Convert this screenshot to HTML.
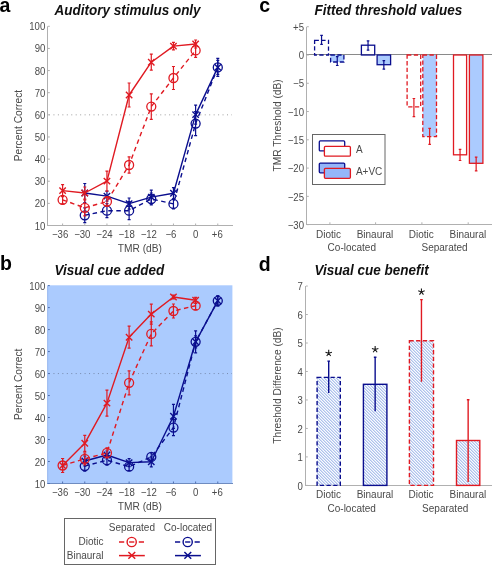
<!DOCTYPE html>
<html><head><meta charset="utf-8"><style>
html,body{margin:0;padding:0;background:#fff;}
svg{display:block;font-family:"Liberation Sans", sans-serif;will-change:transform;}
</style></head><body>
<svg width="492" height="565" viewBox="0 0 492 565">
<defs>
<pattern id="hatch" patternUnits="userSpaceOnUse" x="0" y="0" width="3" height="3">
<rect width="3" height="3" fill="#f9fbff"/>
<rect x="0" y="0" width="1" height="1" fill="#aec2ec"/><rect x="1" y="1" width="1" height="1" fill="#aec2ec"/><rect x="2" y="2" width="1" height="1" fill="#aec2ec"/>
<rect x="1" y="0" width="1" height="1" fill="#d4dff5"/><rect x="2" y="1" width="1" height="1" fill="#d4dff5"/><rect x="0" y="2" width="1" height="1" fill="#d4dff5"/>
</pattern>
</defs>
<rect width="492" height="565" fill="#fff"/>
<text x="-0.60" y="12.30" font-size="19.5" text-anchor="start" fill="#000" font-weight="bold" font-style="normal">a</text>
<text x="259.30" y="12.30" font-size="19.5" text-anchor="start" fill="#000" font-weight="bold" font-style="normal">c</text>
<text x="0.00" y="270.40" font-size="19.5" text-anchor="start" fill="#000" font-weight="bold" font-style="normal">b</text>
<text x="258.80" y="270.80" font-size="19.5" text-anchor="start" fill="#000" font-weight="bold" font-style="normal">d</text>
<text transform="translate(54.50,14.90) scale(1,1.05)" font-size="13.5" text-anchor="start" fill="#111" font-weight="bold" font-style="italic">Auditory stimulus only</text>
<text transform="translate(314.60,14.90) scale(1,1.05)" font-size="13.5" text-anchor="start" fill="#111" font-weight="bold" font-style="italic">Fitted threshold values</text>
<text transform="translate(54.50,274.80) scale(1,1.05)" font-size="13.5" text-anchor="start" fill="#111" font-weight="bold" font-style="italic">Visual cue added</text>
<text transform="translate(314.60,274.80) scale(1,1.05)" font-size="13.5" text-anchor="start" fill="#111" font-weight="bold" font-style="italic">Visual cue benefit</text>
<line x1="49.00" y1="114.83" x2="232.00" y2="114.83" stroke="#8a8a8a" stroke-width="1" stroke-dasharray="1 3.45" stroke-opacity="0.8"/>
<line x1="47.50" y1="26.30" x2="47.50" y2="225.50" stroke="#b0b0b0" stroke-width="1" />
<line x1="47.00" y1="225.50" x2="233.00" y2="225.50" stroke="#b0b0b0" stroke-width="1" />
<line x1="48.00" y1="225.50" x2="49.80" y2="225.50" stroke="#b0b0b0" stroke-width="1" />
<text transform="translate(45.30,229.50) scale(1,1.08)" font-size="9.6" text-anchor="end" fill="#4a4a4a" font-weight="normal" font-style="normal">10</text>
<line x1="48.00" y1="203.37" x2="49.80" y2="203.37" stroke="#b0b0b0" stroke-width="1" />
<text transform="translate(45.30,207.37) scale(1,1.08)" font-size="9.6" text-anchor="end" fill="#4a4a4a" font-weight="normal" font-style="normal">20</text>
<line x1="48.00" y1="181.23" x2="49.80" y2="181.23" stroke="#b0b0b0" stroke-width="1" />
<text transform="translate(45.30,185.23) scale(1,1.08)" font-size="9.6" text-anchor="end" fill="#4a4a4a" font-weight="normal" font-style="normal">30</text>
<line x1="48.00" y1="159.10" x2="49.80" y2="159.10" stroke="#b0b0b0" stroke-width="1" />
<text transform="translate(45.30,163.10) scale(1,1.08)" font-size="9.6" text-anchor="end" fill="#4a4a4a" font-weight="normal" font-style="normal">40</text>
<line x1="48.00" y1="136.97" x2="49.80" y2="136.97" stroke="#b0b0b0" stroke-width="1" />
<text transform="translate(45.30,140.97) scale(1,1.08)" font-size="9.6" text-anchor="end" fill="#4a4a4a" font-weight="normal" font-style="normal">50</text>
<line x1="48.00" y1="114.83" x2="49.80" y2="114.83" stroke="#b0b0b0" stroke-width="1" />
<text transform="translate(45.30,118.83) scale(1,1.08)" font-size="9.6" text-anchor="end" fill="#4a4a4a" font-weight="normal" font-style="normal">60</text>
<line x1="48.00" y1="92.70" x2="49.80" y2="92.70" stroke="#b0b0b0" stroke-width="1" />
<text transform="translate(45.30,96.70) scale(1,1.08)" font-size="9.6" text-anchor="end" fill="#4a4a4a" font-weight="normal" font-style="normal">70</text>
<line x1="48.00" y1="70.57" x2="49.80" y2="70.57" stroke="#b0b0b0" stroke-width="1" />
<text transform="translate(45.30,74.57) scale(1,1.08)" font-size="9.6" text-anchor="end" fill="#4a4a4a" font-weight="normal" font-style="normal">80</text>
<line x1="48.00" y1="48.43" x2="49.80" y2="48.43" stroke="#b0b0b0" stroke-width="1" />
<text transform="translate(45.30,52.43) scale(1,1.08)" font-size="9.6" text-anchor="end" fill="#4a4a4a" font-weight="normal" font-style="normal">90</text>
<line x1="48.00" y1="26.30" x2="49.80" y2="26.30" stroke="#b0b0b0" stroke-width="1" />
<text transform="translate(45.30,30.30) scale(1,1.08)" font-size="9.6" text-anchor="end" fill="#4a4a4a" font-weight="normal" font-style="normal">100</text>
<line x1="62.60" y1="225.50" x2="62.60" y2="223.50" stroke="#b0b0b0" stroke-width="1" />
<text transform="translate(60.10,238.20) scale(1,1.08)" font-size="9.6" text-anchor="middle" fill="#4a4a4a" font-weight="normal" font-style="normal">−36</text>
<line x1="84.77" y1="225.50" x2="84.77" y2="223.50" stroke="#b0b0b0" stroke-width="1" />
<text transform="translate(82.27,238.20) scale(1,1.08)" font-size="9.6" text-anchor="middle" fill="#4a4a4a" font-weight="normal" font-style="normal">−30</text>
<line x1="106.94" y1="225.50" x2="106.94" y2="223.50" stroke="#b0b0b0" stroke-width="1" />
<text transform="translate(104.44,238.20) scale(1,1.08)" font-size="9.6" text-anchor="middle" fill="#4a4a4a" font-weight="normal" font-style="normal">−24</text>
<line x1="129.11" y1="225.50" x2="129.11" y2="223.50" stroke="#b0b0b0" stroke-width="1" />
<text transform="translate(126.61,238.20) scale(1,1.08)" font-size="9.6" text-anchor="middle" fill="#4a4a4a" font-weight="normal" font-style="normal">−18</text>
<line x1="151.28" y1="225.50" x2="151.28" y2="223.50" stroke="#b0b0b0" stroke-width="1" />
<text transform="translate(148.78,238.20) scale(1,1.08)" font-size="9.6" text-anchor="middle" fill="#4a4a4a" font-weight="normal" font-style="normal">−12</text>
<line x1="173.45" y1="225.50" x2="173.45" y2="223.50" stroke="#b0b0b0" stroke-width="1" />
<text transform="translate(170.95,238.20) scale(1,1.08)" font-size="9.6" text-anchor="middle" fill="#4a4a4a" font-weight="normal" font-style="normal">−6</text>
<line x1="195.62" y1="225.50" x2="195.62" y2="223.50" stroke="#b0b0b0" stroke-width="1" />
<text transform="translate(195.62,238.20) scale(1,1.08)" font-size="9.6" text-anchor="middle" fill="#4a4a4a" font-weight="normal" font-style="normal">0</text>
<line x1="217.79" y1="225.50" x2="217.79" y2="223.50" stroke="#b0b0b0" stroke-width="1" />
<text transform="translate(217.29,238.20) scale(1,1.08)" font-size="9.6" text-anchor="middle" fill="#4a4a4a" font-weight="normal" font-style="normal">+6</text>
<text x="139.90" y="251.70" font-size="10.2" text-anchor="middle" fill="#4a4a4a" font-weight="normal" font-style="normal">TMR (dB)</text>
<text transform="translate(22.3,125.60) rotate(-90)" font-size="10.2" text-anchor="middle" fill="#4a4a4a">Percent Correct</text>
<polyline points="84.77,215.30 106.94,210.70 129.11,210.70 151.28,199.00 173.45,203.90 195.62,123.60 217.79,67.40" fill="none" stroke="#0a0e8e" stroke-width="1.4" stroke-dasharray="4.5 3.5" stroke-linejoin="round"/>
<path d="M84.77,207.90V222.70M83.27,207.90H86.27M83.27,222.70H86.27" stroke="#0a0e8e" stroke-width="1.2" fill="none"/>
<circle cx="84.77" cy="215.30" r="4.5" fill="none" stroke="#0a0e8e" stroke-width="1.3"/>
<path d="M106.94,203.70V217.70M105.44,203.70H108.44M105.44,217.70H108.44" stroke="#0a0e8e" stroke-width="1.2" fill="none"/>
<circle cx="106.94" cy="210.70" r="4.5" fill="none" stroke="#0a0e8e" stroke-width="1.3"/>
<path d="M129.11,201.70V219.70M127.61,201.70H130.61M127.61,219.70H130.61" stroke="#0a0e8e" stroke-width="1.2" fill="none"/>
<circle cx="129.11" cy="210.70" r="4.5" fill="none" stroke="#0a0e8e" stroke-width="1.3"/>
<path d="M151.28,193.00V205.00M149.78,193.00H152.78M149.78,205.00H152.78" stroke="#0a0e8e" stroke-width="1.2" fill="none"/>
<circle cx="151.28" cy="199.00" r="4.5" fill="none" stroke="#0a0e8e" stroke-width="1.3"/>
<path d="M173.45,198.90V208.90M171.95,198.90H174.95M171.95,208.90H174.95" stroke="#0a0e8e" stroke-width="1.2" fill="none"/>
<circle cx="173.45" cy="203.90" r="4.5" fill="none" stroke="#0a0e8e" stroke-width="1.3"/>
<path d="M195.62,111.60V135.60M194.12,111.60H197.12M194.12,135.60H197.12" stroke="#0a0e8e" stroke-width="1.2" fill="none"/>
<circle cx="195.62" cy="123.60" r="4.5" fill="none" stroke="#0a0e8e" stroke-width="1.3"/>
<path d="M217.79,58.40V76.40M216.29,58.40H219.29M216.29,76.40H219.29" stroke="#0a0e8e" stroke-width="1.2" fill="none"/>
<circle cx="217.79" cy="67.40" r="4.5" fill="none" stroke="#0a0e8e" stroke-width="1.3"/>
<polyline points="84.77,193.00 106.94,196.10 129.11,203.60 151.28,197.10 173.45,193.30 195.62,114.60 217.79,67.40" fill="none" stroke="#0a0e8e" stroke-width="1.4" stroke-linejoin="round"/>
<path d="M84.77,183.50V202.50M83.27,183.50H86.27M83.27,202.50H86.27" stroke="#0a0e8e" stroke-width="1.2" fill="none"/>
<path d="M81.57,189.80L87.97,196.20M81.57,196.20L87.97,189.80" stroke="#0a0e8e" stroke-width="1.4" fill="none"/>
<path d="M106.94,191.10V201.10M105.44,191.10H108.44M105.44,201.10H108.44" stroke="#0a0e8e" stroke-width="1.2" fill="none"/>
<path d="M103.74,192.90L110.14,199.30M103.74,199.30L110.14,192.90" stroke="#0a0e8e" stroke-width="1.4" fill="none"/>
<path d="M129.11,198.00V209.20M127.61,198.00H130.61M127.61,209.20H130.61" stroke="#0a0e8e" stroke-width="1.2" fill="none"/>
<path d="M125.91,200.40L132.31,206.80M125.91,206.80L132.31,200.40" stroke="#0a0e8e" stroke-width="1.4" fill="none"/>
<path d="M151.28,190.10V204.10M149.78,190.10H152.78M149.78,204.10H152.78" stroke="#0a0e8e" stroke-width="1.2" fill="none"/>
<path d="M148.08,193.90L154.48,200.30M148.08,200.30L154.48,193.90" stroke="#0a0e8e" stroke-width="1.4" fill="none"/>
<path d="M173.45,187.60V199.00M171.95,187.60H174.95M171.95,199.00H174.95" stroke="#0a0e8e" stroke-width="1.2" fill="none"/>
<path d="M170.25,190.10L176.65,196.50M170.25,196.50L176.65,190.10" stroke="#0a0e8e" stroke-width="1.4" fill="none"/>
<path d="M195.62,105.10V124.10M194.12,105.10H197.12M194.12,124.10H197.12" stroke="#0a0e8e" stroke-width="1.2" fill="none"/>
<path d="M192.42,111.40L198.82,117.80M192.42,117.80L198.82,111.40" stroke="#0a0e8e" stroke-width="1.4" fill="none"/>
<path d="M217.79,60.40V74.40M216.29,60.40H219.29M216.29,74.40H219.29" stroke="#0a0e8e" stroke-width="1.2" fill="none"/>
<path d="M214.59,64.20L220.99,70.60M214.59,70.60L220.99,64.20" stroke="#0a0e8e" stroke-width="1.4" fill="none"/>
<polyline points="62.60,199.80 84.77,207.80 106.94,201.50 129.11,165.00 151.28,106.60 173.45,78.00 195.62,50.40" fill="none" stroke="#e01a22" stroke-width="1.4" stroke-dasharray="4.5 3.5" stroke-linejoin="round"/>
<path d="M62.60,195.80V203.80M61.10,195.80H64.10M61.10,203.80H64.10" stroke="#e01a22" stroke-width="1.2" fill="none"/>
<circle cx="62.60" cy="199.80" r="4.5" fill="none" stroke="#e01a22" stroke-width="1.3"/>
<path d="M84.77,199.80V215.80M83.27,199.80H86.27M83.27,215.80H86.27" stroke="#e01a22" stroke-width="1.2" fill="none"/>
<circle cx="84.77" cy="207.80" r="4.5" fill="none" stroke="#e01a22" stroke-width="1.3"/>
<path d="M106.94,196.50V206.50M105.44,196.50H108.44M105.44,206.50H108.44" stroke="#e01a22" stroke-width="1.2" fill="none"/>
<circle cx="106.94" cy="201.50" r="4.5" fill="none" stroke="#e01a22" stroke-width="1.3"/>
<path d="M129.11,156.80V173.20M127.61,156.80H130.61M127.61,173.20H130.61" stroke="#e01a22" stroke-width="1.2" fill="none"/>
<circle cx="129.11" cy="165.00" r="4.5" fill="none" stroke="#e01a22" stroke-width="1.3"/>
<path d="M151.28,93.90V119.30M149.78,93.90H152.78M149.78,119.30H152.78" stroke="#e01a22" stroke-width="1.2" fill="none"/>
<circle cx="151.28" cy="106.60" r="4.5" fill="none" stroke="#e01a22" stroke-width="1.3"/>
<path d="M173.45,66.50V89.50M171.95,66.50H174.95M171.95,89.50H174.95" stroke="#e01a22" stroke-width="1.2" fill="none"/>
<circle cx="173.45" cy="78.00" r="4.5" fill="none" stroke="#e01a22" stroke-width="1.3"/>
<path d="M195.62,43.40V57.40M194.12,43.40H197.12M194.12,57.40H197.12" stroke="#e01a22" stroke-width="1.2" fill="none"/>
<circle cx="195.62" cy="50.40" r="4.5" fill="none" stroke="#e01a22" stroke-width="1.3"/>
<polyline points="62.60,190.60 84.77,193.00 106.94,181.10 129.11,95.00 151.28,62.20 173.45,46.10 195.62,44.00" fill="none" stroke="#e01a22" stroke-width="1.4" stroke-linejoin="round"/>
<path d="M62.60,184.60V196.60M61.10,184.60H64.10M61.10,196.60H64.10" stroke="#e01a22" stroke-width="1.2" fill="none"/>
<path d="M59.40,187.40L65.80,193.80M59.40,193.80L65.80,187.40" stroke="#e01a22" stroke-width="1.4" fill="none"/>
<path d="M84.77,187.00V199.00M83.27,187.00H86.27M83.27,199.00H86.27" stroke="#e01a22" stroke-width="1.2" fill="none"/>
<path d="M81.57,189.80L87.97,196.20M81.57,196.20L87.97,189.80" stroke="#e01a22" stroke-width="1.4" fill="none"/>
<path d="M106.94,171.10V191.10M105.44,171.10H108.44M105.44,191.10H108.44" stroke="#e01a22" stroke-width="1.2" fill="none"/>
<path d="M103.74,177.90L110.14,184.30M103.74,184.30L110.14,177.90" stroke="#e01a22" stroke-width="1.4" fill="none"/>
<path d="M129.11,83.00V107.00M127.61,83.00H130.61M127.61,107.00H130.61" stroke="#e01a22" stroke-width="1.2" fill="none"/>
<path d="M125.91,91.80L132.31,98.20M125.91,98.20L132.31,91.80" stroke="#e01a22" stroke-width="1.4" fill="none"/>
<path d="M151.28,54.20V70.20M149.78,54.20H152.78M149.78,70.20H152.78" stroke="#e01a22" stroke-width="1.2" fill="none"/>
<path d="M148.08,59.00L154.48,65.40M148.08,65.40L154.48,59.00" stroke="#e01a22" stroke-width="1.4" fill="none"/>
<path d="M173.45,42.40V49.80M171.95,42.40H174.95M171.95,49.80H174.95" stroke="#e01a22" stroke-width="1.2" fill="none"/>
<path d="M170.25,42.90L176.65,49.30M170.25,49.30L176.65,42.90" stroke="#e01a22" stroke-width="1.4" fill="none"/>
<path d="M195.62,40.00V48.00M194.12,40.00H197.12M194.12,48.00H197.12" stroke="#e01a22" stroke-width="1.2" fill="none"/>
<path d="M192.42,40.80L198.82,47.20M192.42,47.20L198.82,40.80" stroke="#e01a22" stroke-width="1.4" fill="none"/>
<rect x="47.2" y="285.30" width="185.20" height="198.20" fill="#abcbfe"/>
<line x1="47.70" y1="285.60" x2="47.70" y2="483.50" stroke="#94b2e8" stroke-width="0.8" />
<line x1="49.00" y1="373.56" x2="232.00" y2="373.56" stroke="#6a7a9a" stroke-width="1" stroke-dasharray="1 3.45" stroke-opacity="0.8"/>
<line x1="47.00" y1="483.50" x2="233.00" y2="483.50" stroke="#6f8cc0" stroke-width="1" />
<line x1="48.00" y1="483.50" x2="49.80" y2="483.50" stroke="#4f6fb0" stroke-width="1" />
<text transform="translate(45.30,487.50) scale(1,1.08)" font-size="9.6" text-anchor="end" fill="#4a4a4a" font-weight="normal" font-style="normal">10</text>
<line x1="48.00" y1="461.51" x2="49.80" y2="461.51" stroke="#4f6fb0" stroke-width="1" />
<text transform="translate(45.30,465.51) scale(1,1.08)" font-size="9.6" text-anchor="end" fill="#4a4a4a" font-weight="normal" font-style="normal">20</text>
<line x1="48.00" y1="439.52" x2="49.80" y2="439.52" stroke="#4f6fb0" stroke-width="1" />
<text transform="translate(45.30,443.52) scale(1,1.08)" font-size="9.6" text-anchor="end" fill="#4a4a4a" font-weight="normal" font-style="normal">30</text>
<line x1="48.00" y1="417.53" x2="49.80" y2="417.53" stroke="#4f6fb0" stroke-width="1" />
<text transform="translate(45.30,421.53) scale(1,1.08)" font-size="9.6" text-anchor="end" fill="#4a4a4a" font-weight="normal" font-style="normal">40</text>
<line x1="48.00" y1="395.54" x2="49.80" y2="395.54" stroke="#4f6fb0" stroke-width="1" />
<text transform="translate(45.30,399.54) scale(1,1.08)" font-size="9.6" text-anchor="end" fill="#4a4a4a" font-weight="normal" font-style="normal">50</text>
<line x1="48.00" y1="373.56" x2="49.80" y2="373.56" stroke="#4f6fb0" stroke-width="1" />
<text transform="translate(45.30,377.56) scale(1,1.08)" font-size="9.6" text-anchor="end" fill="#4a4a4a" font-weight="normal" font-style="normal">60</text>
<line x1="48.00" y1="351.57" x2="49.80" y2="351.57" stroke="#4f6fb0" stroke-width="1" />
<text transform="translate(45.30,355.57) scale(1,1.08)" font-size="9.6" text-anchor="end" fill="#4a4a4a" font-weight="normal" font-style="normal">70</text>
<line x1="48.00" y1="329.58" x2="49.80" y2="329.58" stroke="#4f6fb0" stroke-width="1" />
<text transform="translate(45.30,333.58) scale(1,1.08)" font-size="9.6" text-anchor="end" fill="#4a4a4a" font-weight="normal" font-style="normal">80</text>
<line x1="48.00" y1="307.59" x2="49.80" y2="307.59" stroke="#4f6fb0" stroke-width="1" />
<text transform="translate(45.30,311.59) scale(1,1.08)" font-size="9.6" text-anchor="end" fill="#4a4a4a" font-weight="normal" font-style="normal">90</text>
<line x1="48.00" y1="285.60" x2="49.80" y2="285.60" stroke="#4f6fb0" stroke-width="1" />
<text transform="translate(45.30,289.60) scale(1,1.08)" font-size="9.6" text-anchor="end" fill="#4a4a4a" font-weight="normal" font-style="normal">100</text>
<line x1="62.60" y1="483.50" x2="62.60" y2="481.50" stroke="#4f6fb0" stroke-width="1" />
<text transform="translate(60.10,496.20) scale(1,1.08)" font-size="9.6" text-anchor="middle" fill="#4a4a4a" font-weight="normal" font-style="normal">−36</text>
<line x1="84.77" y1="483.50" x2="84.77" y2="481.50" stroke="#4f6fb0" stroke-width="1" />
<text transform="translate(82.27,496.20) scale(1,1.08)" font-size="9.6" text-anchor="middle" fill="#4a4a4a" font-weight="normal" font-style="normal">−30</text>
<line x1="106.94" y1="483.50" x2="106.94" y2="481.50" stroke="#4f6fb0" stroke-width="1" />
<text transform="translate(104.44,496.20) scale(1,1.08)" font-size="9.6" text-anchor="middle" fill="#4a4a4a" font-weight="normal" font-style="normal">−24</text>
<line x1="129.11" y1="483.50" x2="129.11" y2="481.50" stroke="#4f6fb0" stroke-width="1" />
<text transform="translate(126.61,496.20) scale(1,1.08)" font-size="9.6" text-anchor="middle" fill="#4a4a4a" font-weight="normal" font-style="normal">−18</text>
<line x1="151.28" y1="483.50" x2="151.28" y2="481.50" stroke="#4f6fb0" stroke-width="1" />
<text transform="translate(148.78,496.20) scale(1,1.08)" font-size="9.6" text-anchor="middle" fill="#4a4a4a" font-weight="normal" font-style="normal">−12</text>
<line x1="173.45" y1="483.50" x2="173.45" y2="481.50" stroke="#4f6fb0" stroke-width="1" />
<text transform="translate(170.95,496.20) scale(1,1.08)" font-size="9.6" text-anchor="middle" fill="#4a4a4a" font-weight="normal" font-style="normal">−6</text>
<line x1="195.62" y1="483.50" x2="195.62" y2="481.50" stroke="#4f6fb0" stroke-width="1" />
<text transform="translate(195.62,496.20) scale(1,1.08)" font-size="9.6" text-anchor="middle" fill="#4a4a4a" font-weight="normal" font-style="normal">0</text>
<line x1="217.79" y1="483.50" x2="217.79" y2="481.50" stroke="#4f6fb0" stroke-width="1" />
<text transform="translate(217.29,496.20) scale(1,1.08)" font-size="9.6" text-anchor="middle" fill="#4a4a4a" font-weight="normal" font-style="normal">+6</text>
<text x="139.90" y="509.70" font-size="10.2" text-anchor="middle" fill="#4a4a4a" font-weight="normal" font-style="normal">TMR (dB)</text>
<text transform="translate(22.3,384.25) rotate(-90)" font-size="10.2" text-anchor="middle" fill="#4a4a4a">Percent Correct</text>
<polyline points="84.77,466.10 106.94,460.20 129.11,466.70 151.28,456.90 173.45,427.60 195.62,341.80 217.79,300.80" fill="none" stroke="#0a0e8e" stroke-width="1.4" stroke-dasharray="4.5 3.5" stroke-linejoin="round"/>
<path d="M84.77,461.10V471.10M83.27,461.10H86.27M83.27,471.10H86.27" stroke="#0a0e8e" stroke-width="1.2" fill="none"/>
<circle cx="84.77" cy="466.10" r="4.5" fill="none" stroke="#0a0e8e" stroke-width="1.3"/>
<path d="M106.94,455.20V465.20M105.44,455.20H108.44M105.44,465.20H108.44" stroke="#0a0e8e" stroke-width="1.2" fill="none"/>
<circle cx="106.94" cy="460.20" r="4.5" fill="none" stroke="#0a0e8e" stroke-width="1.3"/>
<path d="M129.11,462.70V470.70M127.61,462.70H130.61M127.61,470.70H130.61" stroke="#0a0e8e" stroke-width="1.2" fill="none"/>
<circle cx="129.11" cy="466.70" r="4.5" fill="none" stroke="#0a0e8e" stroke-width="1.3"/>
<path d="M151.28,452.90V460.90M149.78,452.90H152.78M149.78,460.90H152.78" stroke="#0a0e8e" stroke-width="1.2" fill="none"/>
<circle cx="151.28" cy="456.90" r="4.5" fill="none" stroke="#0a0e8e" stroke-width="1.3"/>
<path d="M173.45,419.60V435.60M171.95,419.60H174.95M171.95,435.60H174.95" stroke="#0a0e8e" stroke-width="1.2" fill="none"/>
<circle cx="173.45" cy="427.60" r="4.5" fill="none" stroke="#0a0e8e" stroke-width="1.3"/>
<path d="M195.62,335.80V347.80M194.12,335.80H197.12M194.12,347.80H197.12" stroke="#0a0e8e" stroke-width="1.2" fill="none"/>
<circle cx="195.62" cy="341.80" r="4.5" fill="none" stroke="#0a0e8e" stroke-width="1.3"/>
<path d="M217.79,295.80V305.80M216.29,295.80H219.29M216.29,305.80H219.29" stroke="#0a0e8e" stroke-width="1.2" fill="none"/>
<circle cx="217.79" cy="300.80" r="4.5" fill="none" stroke="#0a0e8e" stroke-width="1.3"/>
<polyline points="84.77,461.00 106.94,455.00 129.11,462.60 151.28,461.80 173.45,416.30 195.62,341.80 217.79,300.80" fill="none" stroke="#0a0e8e" stroke-width="1.4" stroke-linejoin="round"/>
<path d="M84.77,456.00V466.00M83.27,456.00H86.27M83.27,466.00H86.27" stroke="#0a0e8e" stroke-width="1.2" fill="none"/>
<path d="M81.57,457.80L87.97,464.20M81.57,464.20L87.97,457.80" stroke="#0a0e8e" stroke-width="1.4" fill="none"/>
<path d="M106.94,451.00V459.00M105.44,451.00H108.44M105.44,459.00H108.44" stroke="#0a0e8e" stroke-width="1.2" fill="none"/>
<path d="M103.74,451.80L110.14,458.20M103.74,458.20L110.14,451.80" stroke="#0a0e8e" stroke-width="1.4" fill="none"/>
<path d="M129.11,458.60V466.60M127.61,458.60H130.61M127.61,466.60H130.61" stroke="#0a0e8e" stroke-width="1.2" fill="none"/>
<path d="M125.91,459.40L132.31,465.80M125.91,465.80L132.31,459.40" stroke="#0a0e8e" stroke-width="1.4" fill="none"/>
<path d="M151.28,456.80V466.80M149.78,456.80H152.78M149.78,466.80H152.78" stroke="#0a0e8e" stroke-width="1.2" fill="none"/>
<path d="M148.08,458.60L154.48,465.00M148.08,465.00L154.48,458.60" stroke="#0a0e8e" stroke-width="1.4" fill="none"/>
<path d="M173.45,404.30V428.30M171.95,404.30H174.95M171.95,428.30H174.95" stroke="#0a0e8e" stroke-width="1.2" fill="none"/>
<path d="M170.25,413.10L176.65,419.50M170.25,419.50L176.65,413.10" stroke="#0a0e8e" stroke-width="1.4" fill="none"/>
<path d="M195.62,330.80V352.80M194.12,330.80H197.12M194.12,352.80H197.12" stroke="#0a0e8e" stroke-width="1.2" fill="none"/>
<path d="M192.42,338.60L198.82,345.00M192.42,345.00L198.82,338.60" stroke="#0a0e8e" stroke-width="1.4" fill="none"/>
<path d="M217.79,295.80V305.80M216.29,295.80H219.29M216.29,305.80H219.29" stroke="#0a0e8e" stroke-width="1.2" fill="none"/>
<path d="M214.59,297.60L220.99,304.00M214.59,304.00L220.99,297.60" stroke="#0a0e8e" stroke-width="1.4" fill="none"/>
<polyline points="62.60,465.50 84.77,458.80 106.94,452.90 129.11,382.80 151.28,333.90 173.45,311.00 195.62,305.70" fill="none" stroke="#e01a22" stroke-width="1.4" stroke-dasharray="4.5 3.5" stroke-linejoin="round"/>
<path d="M62.60,458.50V472.50M61.10,458.50H64.10M61.10,472.50H64.10" stroke="#e01a22" stroke-width="1.2" fill="none"/>
<circle cx="62.60" cy="465.50" r="4.5" fill="none" stroke="#e01a22" stroke-width="1.3"/>
<path d="M84.77,452.80V464.80M83.27,452.80H86.27M83.27,464.80H86.27" stroke="#e01a22" stroke-width="1.2" fill="none"/>
<circle cx="84.77" cy="458.80" r="4.5" fill="none" stroke="#e01a22" stroke-width="1.3"/>
<path d="M106.94,447.90V457.90M105.44,447.90H108.44M105.44,457.90H108.44" stroke="#e01a22" stroke-width="1.2" fill="none"/>
<circle cx="106.94" cy="452.90" r="4.5" fill="none" stroke="#e01a22" stroke-width="1.3"/>
<path d="M129.11,370.80V394.80M127.61,370.80H130.61M127.61,394.80H130.61" stroke="#e01a22" stroke-width="1.2" fill="none"/>
<circle cx="129.11" cy="382.80" r="4.5" fill="none" stroke="#e01a22" stroke-width="1.3"/>
<path d="M151.28,321.90V345.90M149.78,321.90H152.78M149.78,345.90H152.78" stroke="#e01a22" stroke-width="1.2" fill="none"/>
<circle cx="151.28" cy="333.90" r="4.5" fill="none" stroke="#e01a22" stroke-width="1.3"/>
<path d="M173.45,304.00V318.00M171.95,304.00H174.95M171.95,318.00H174.95" stroke="#e01a22" stroke-width="1.2" fill="none"/>
<circle cx="173.45" cy="311.00" r="4.5" fill="none" stroke="#e01a22" stroke-width="1.3"/>
<path d="M195.62,301.70V309.70M194.12,301.70H197.12M194.12,309.70H197.12" stroke="#e01a22" stroke-width="1.2" fill="none"/>
<circle cx="195.62" cy="305.70" r="4.5" fill="none" stroke="#e01a22" stroke-width="1.3"/>
<polyline points="62.60,465.50 84.77,443.30 106.94,403.10 129.11,337.20 151.28,314.10 173.45,297.00 195.62,300.30" fill="none" stroke="#e01a22" stroke-width="1.4" stroke-linejoin="round"/>
<path d="M62.60,458.50V472.50M61.10,458.50H64.10M61.10,472.50H64.10" stroke="#e01a22" stroke-width="1.2" fill="none"/>
<path d="M59.40,462.30L65.80,468.70M59.40,468.70L65.80,462.30" stroke="#e01a22" stroke-width="1.4" fill="none"/>
<path d="M84.77,435.30V451.30M83.27,435.30H86.27M83.27,451.30H86.27" stroke="#e01a22" stroke-width="1.2" fill="none"/>
<path d="M81.57,440.10L87.97,446.50M81.57,446.50L87.97,440.10" stroke="#e01a22" stroke-width="1.4" fill="none"/>
<path d="M106.94,390.10V416.10M105.44,390.10H108.44M105.44,416.10H108.44" stroke="#e01a22" stroke-width="1.2" fill="none"/>
<path d="M103.74,399.90L110.14,406.30M103.74,406.30L110.14,399.90" stroke="#e01a22" stroke-width="1.4" fill="none"/>
<path d="M129.11,326.20V348.20M127.61,326.20H130.61M127.61,348.20H130.61" stroke="#e01a22" stroke-width="1.2" fill="none"/>
<path d="M125.91,334.00L132.31,340.40M125.91,340.40L132.31,334.00" stroke="#e01a22" stroke-width="1.4" fill="none"/>
<path d="M151.28,304.10V324.10M149.78,304.10H152.78M149.78,324.10H152.78" stroke="#e01a22" stroke-width="1.2" fill="none"/>
<path d="M148.08,310.90L154.48,317.30M148.08,317.30L154.48,310.90" stroke="#e01a22" stroke-width="1.4" fill="none"/>
<path d="M173.45,295.00V299.00M171.95,295.00H174.95M171.95,299.00H174.95" stroke="#e01a22" stroke-width="1.2" fill="none"/>
<path d="M170.25,293.80L176.65,300.20M170.25,300.20L176.65,293.80" stroke="#e01a22" stroke-width="1.4" fill="none"/>
<path d="M195.62,297.30V303.30M194.12,297.30H197.12M194.12,303.30H197.12" stroke="#e01a22" stroke-width="1.2" fill="none"/>
<path d="M192.42,297.10L198.82,303.50M192.42,303.50L198.82,297.10" stroke="#e01a22" stroke-width="1.4" fill="none"/>
<rect x="64.5" y="518.5" width="151" height="46" fill="#fff" stroke="#666" stroke-width="1"/>
<text x="131.90" y="531.30" font-size="10" text-anchor="middle" fill="#4a4a4a" font-weight="normal" font-style="normal">Separated</text>
<text x="188.00" y="531.30" font-size="10" text-anchor="middle" fill="#4a4a4a" font-weight="normal" font-style="normal">Co-located</text>
<text x="103.50" y="545.40" font-size="10" text-anchor="end" fill="#4a4a4a" font-weight="normal" font-style="normal">Diotic</text>
<text x="103.50" y="559.20" font-size="10" text-anchor="end" fill="#4a4a4a" font-weight="normal" font-style="normal">Binaural</text>
<line x1="119.00" y1="542.00" x2="124.20" y2="542.00" stroke="#e01a22" stroke-width="1.5" />
<line x1="138.80" y1="542.00" x2="144.00" y2="542.00" stroke="#e01a22" stroke-width="1.5" />
<circle cx="131.70" cy="542.00" r="4.6" fill="none" stroke="#e01a22" stroke-width="1.4"/>
<line x1="129.10" y1="542.00" x2="134.30" y2="542.00" stroke="#e01a22" stroke-width="1.4" />
<line x1="119.00" y1="555.60" x2="144.80" y2="555.60" stroke="#e01a22" stroke-width="1.5" />
<path d="M128.40,552.00L135.20,558.80M128.40,558.80L135.20,552.00" stroke="#e01a22" stroke-width="1.5" fill="none"/>
<line x1="175.00" y1="542.00" x2="180.20" y2="542.00" stroke="#0a0e8e" stroke-width="1.5" />
<line x1="194.60" y1="542.00" x2="199.80" y2="542.00" stroke="#0a0e8e" stroke-width="1.5" />
<circle cx="187.70" cy="542.00" r="4.6" fill="none" stroke="#0a0e8e" stroke-width="1.4"/>
<line x1="185.10" y1="542.00" x2="190.30" y2="542.00" stroke="#0a0e8e" stroke-width="1.4" />
<line x1="175.00" y1="555.60" x2="200.90" y2="555.60" stroke="#0a0e8e" stroke-width="1.5" />
<path d="M184.40,552.00L191.20,558.80M184.40,558.80L191.20,552.00" stroke="#0a0e8e" stroke-width="1.5" fill="none"/>
<line x1="306.50" y1="26.73" x2="306.50" y2="224.50" stroke="#b0b0b0" stroke-width="1" />
<line x1="306.00" y1="224.50" x2="492.00" y2="224.50" stroke="#b0b0b0" stroke-width="1" />
<line x1="306.50" y1="54.50" x2="492.00" y2="54.50" stroke="#8a8a8a" stroke-width="1" />
<line x1="307.00" y1="26.73" x2="308.80" y2="26.73" stroke="#b0b0b0" stroke-width="1" />
<text transform="translate(304.00,30.93) scale(1,1.08)" font-size="9.6" text-anchor="end" fill="#4a4a4a" font-weight="normal" font-style="normal">+5</text>
<line x1="307.00" y1="55.00" x2="308.80" y2="55.00" stroke="#b0b0b0" stroke-width="1" />
<text transform="translate(304.00,59.20) scale(1,1.08)" font-size="9.6" text-anchor="end" fill="#4a4a4a" font-weight="normal" font-style="normal">0</text>
<line x1="307.00" y1="83.27" x2="308.80" y2="83.27" stroke="#b0b0b0" stroke-width="1" />
<text transform="translate(304.00,87.47) scale(1,1.08)" font-size="9.6" text-anchor="end" fill="#4a4a4a" font-weight="normal" font-style="normal">−5</text>
<line x1="307.00" y1="111.54" x2="308.80" y2="111.54" stroke="#b0b0b0" stroke-width="1" />
<text transform="translate(304.00,115.74) scale(1,1.08)" font-size="9.6" text-anchor="end" fill="#4a4a4a" font-weight="normal" font-style="normal">−10</text>
<line x1="307.00" y1="139.81" x2="308.80" y2="139.81" stroke="#b0b0b0" stroke-width="1" />
<text transform="translate(304.00,144.01) scale(1,1.08)" font-size="9.6" text-anchor="end" fill="#4a4a4a" font-weight="normal" font-style="normal">−15</text>
<line x1="307.00" y1="168.08" x2="308.80" y2="168.08" stroke="#b0b0b0" stroke-width="1" />
<text transform="translate(304.00,172.28) scale(1,1.08)" font-size="9.6" text-anchor="end" fill="#4a4a4a" font-weight="normal" font-style="normal">−20</text>
<line x1="307.00" y1="196.35" x2="308.80" y2="196.35" stroke="#b0b0b0" stroke-width="1" />
<text transform="translate(304.00,200.55) scale(1,1.08)" font-size="9.6" text-anchor="end" fill="#4a4a4a" font-weight="normal" font-style="normal">−25</text>
<line x1="307.00" y1="224.62" x2="308.80" y2="224.62" stroke="#b0b0b0" stroke-width="1" />
<text transform="translate(304.00,228.82) scale(1,1.08)" font-size="9.6" text-anchor="end" fill="#4a4a4a" font-weight="normal" font-style="normal">−30</text>
<line x1="329.90" y1="224.00" x2="329.90" y2="222.30" stroke="#b0b0b0" stroke-width="1" />
<line x1="375.60" y1="224.00" x2="375.60" y2="222.30" stroke="#b0b0b0" stroke-width="1" />
<line x1="421.90" y1="224.00" x2="421.90" y2="222.30" stroke="#b0b0b0" stroke-width="1" />
<line x1="468.20" y1="224.00" x2="468.20" y2="222.30" stroke="#b0b0b0" stroke-width="1" />
<text x="328.50" y="237.50" font-size="10" text-anchor="middle" fill="#4a4a4a" font-weight="normal" font-style="normal">Diotic</text>
<text x="375.00" y="237.50" font-size="10" text-anchor="middle" fill="#4a4a4a" font-weight="normal" font-style="normal">Binaural</text>
<text x="421.20" y="237.50" font-size="10" text-anchor="middle" fill="#4a4a4a" font-weight="normal" font-style="normal">Diotic</text>
<text x="467.90" y="237.50" font-size="10" text-anchor="middle" fill="#4a4a4a" font-weight="normal" font-style="normal">Binaural</text>
<text x="351.80" y="250.60" font-size="10" text-anchor="middle" fill="#4a4a4a" font-weight="normal" font-style="normal">Co-located</text>
<text x="444.60" y="250.60" font-size="10" text-anchor="middle" fill="#4a4a4a" font-weight="normal" font-style="normal">Separated</text>
<text transform="translate(280.6,125.36) rotate(-90)" font-size="10.2" text-anchor="middle" fill="#4a4a4a">TMR Threshold (dB)</text>
<rect x="314.60" y="40.30" width="13.90" height="14.70" fill="none" stroke="#0a0e8e" stroke-width="1.3" stroke-dasharray="4.3 2.4"/>
<path d="M321.55,35.40V44.40M320.25,35.40H322.85M320.25,44.40H322.85" stroke="#0a0e8e" stroke-width="1.2" fill="none"/>
<rect x="330.60" y="55.00" width="13.30" height="7.00" fill="#abcbfe" stroke="#0a0e8e" stroke-width="1.3" stroke-dasharray="4.3 2.4"/>
<path d="M337.25,56.60V65.50M335.95,56.60H338.55M335.95,65.50H338.55" stroke="#0a0e8e" stroke-width="1.2" fill="none"/>
<rect x="361.40" y="45.20" width="13.30" height="9.80" fill="none" stroke="#0a0e8e" stroke-width="1.3"/>
<path d="M368.05,40.80V50.10M366.75,40.80H369.35M366.75,50.10H369.35" stroke="#0a0e8e" stroke-width="1.2" fill="none"/>
<rect x="377.10" y="55.00" width="13.50" height="9.70" fill="#abcbfe" stroke="#0a0e8e" stroke-width="1.3"/>
<path d="M383.85,60.70V69.10M382.55,60.70H385.15M382.55,69.10H385.15" stroke="#0a0e8e" stroke-width="1.2" fill="none"/>
<rect x="407.10" y="55.00" width="13.60" height="51.90" fill="none" stroke="#e01a22" stroke-width="1.3" stroke-dasharray="4.3 2.4"/>
<path d="M413.90,98.50V116.70M412.60,98.50H415.20M412.60,116.70H415.20" stroke="#e01a22" stroke-width="1.2" fill="none"/>
<rect x="422.80" y="55.00" width="13.70" height="81.60" fill="#abcbfe" stroke="#e01a22" stroke-width="1.3" stroke-dasharray="4.3 2.4"/>
<path d="M429.65,128.40V144.40M428.35,128.40H430.95M428.35,144.40H430.95" stroke="#e01a22" stroke-width="1.2" fill="none"/>
<rect x="453.50" y="55.00" width="13.10" height="99.80" fill="none" stroke="#e01a22" stroke-width="1.3"/>
<path d="M460.05,149.40V160.50M458.75,149.40H461.35M458.75,160.50H461.35" stroke="#e01a22" stroke-width="1.2" fill="none"/>
<rect x="469.40" y="55.00" width="13.50" height="108.30" fill="#abcbfe" stroke="#e01a22" stroke-width="1.3"/>
<path d="M476.15,157.20V170.80M474.85,157.20H477.45M474.85,170.80H477.45" stroke="#e01a22" stroke-width="1.2" fill="none"/>
<rect x="312.5" y="134.5" width="72.5" height="50" fill="#fff" stroke="#666" stroke-width="1"/>
<rect x="319.3" y="140.9" width="25.4" height="10" rx="1" fill="#fff" stroke="#0a0e8e" stroke-width="1.3"/>
<rect x="324.4" y="146.4" width="26" height="9.8" rx="1" fill="#fff" stroke="#e01a22" stroke-width="1.3"/>
<rect x="319.3" y="163.1" width="25.4" height="9.7" rx="1" fill="#94b6fa" stroke="#0a0e8e" stroke-width="1.3"/>
<rect x="324.4" y="168.4" width="26" height="9.9" rx="1" fill="#94b6fa" stroke="#e01a22" stroke-width="1.3"/>
<text x="355.90" y="152.50" font-size="10" text-anchor="start" fill="#4a4a4a" font-weight="normal" font-style="normal">A</text>
<text x="355.90" y="174.50" font-size="10" text-anchor="start" fill="#4a4a4a" font-weight="normal" font-style="normal">A+VC</text>
<line x1="305.50" y1="286.04" x2="305.50" y2="485.50" stroke="#b0b0b0" stroke-width="1" />
<line x1="305.00" y1="485.50" x2="492.00" y2="485.50" stroke="#b0b0b0" stroke-width="1" />
<line x1="306.00" y1="485.40" x2="307.80" y2="485.40" stroke="#b0b0b0" stroke-width="1" />
<text transform="translate(302.80,489.60) scale(1,1.08)" font-size="9.6" text-anchor="end" fill="#4a4a4a" font-weight="normal" font-style="normal">0</text>
<line x1="306.00" y1="456.92" x2="307.80" y2="456.92" stroke="#b0b0b0" stroke-width="1" />
<text transform="translate(302.80,461.12) scale(1,1.08)" font-size="9.6" text-anchor="end" fill="#4a4a4a" font-weight="normal" font-style="normal">1</text>
<line x1="306.00" y1="428.44" x2="307.80" y2="428.44" stroke="#b0b0b0" stroke-width="1" />
<text transform="translate(302.80,432.64) scale(1,1.08)" font-size="9.6" text-anchor="end" fill="#4a4a4a" font-weight="normal" font-style="normal">2</text>
<line x1="306.00" y1="399.96" x2="307.80" y2="399.96" stroke="#b0b0b0" stroke-width="1" />
<text transform="translate(302.80,404.16) scale(1,1.08)" font-size="9.6" text-anchor="end" fill="#4a4a4a" font-weight="normal" font-style="normal">3</text>
<line x1="306.00" y1="371.48" x2="307.80" y2="371.48" stroke="#b0b0b0" stroke-width="1" />
<text transform="translate(302.80,375.68) scale(1,1.08)" font-size="9.6" text-anchor="end" fill="#4a4a4a" font-weight="normal" font-style="normal">4</text>
<line x1="306.00" y1="343.00" x2="307.80" y2="343.00" stroke="#b0b0b0" stroke-width="1" />
<text transform="translate(302.80,347.20) scale(1,1.08)" font-size="9.6" text-anchor="end" fill="#4a4a4a" font-weight="normal" font-style="normal">5</text>
<line x1="306.00" y1="314.52" x2="307.80" y2="314.52" stroke="#b0b0b0" stroke-width="1" />
<text transform="translate(302.80,318.72) scale(1,1.08)" font-size="9.6" text-anchor="end" fill="#4a4a4a" font-weight="normal" font-style="normal">6</text>
<line x1="306.00" y1="286.04" x2="307.80" y2="286.04" stroke="#b0b0b0" stroke-width="1" />
<text transform="translate(302.80,290.24) scale(1,1.08)" font-size="9.6" text-anchor="end" fill="#4a4a4a" font-weight="normal" font-style="normal">7</text>
<line x1="328.90" y1="485.40" x2="328.90" y2="483.40" stroke="#b0b0b0" stroke-width="1" />
<line x1="375.20" y1="485.40" x2="375.20" y2="483.40" stroke="#b0b0b0" stroke-width="1" />
<line x1="421.50" y1="485.40" x2="421.50" y2="483.40" stroke="#b0b0b0" stroke-width="1" />
<line x1="468.20" y1="485.40" x2="468.20" y2="483.40" stroke="#b0b0b0" stroke-width="1" />
<text x="328.50" y="498.30" font-size="10" text-anchor="middle" fill="#4a4a4a" font-weight="normal" font-style="normal">Diotic</text>
<text x="375.00" y="498.30" font-size="10" text-anchor="middle" fill="#4a4a4a" font-weight="normal" font-style="normal">Binaural</text>
<text x="421.10" y="498.30" font-size="10" text-anchor="middle" fill="#4a4a4a" font-weight="normal" font-style="normal">Diotic</text>
<text x="467.90" y="498.30" font-size="10" text-anchor="middle" fill="#4a4a4a" font-weight="normal" font-style="normal">Binaural</text>
<text x="351.70" y="512.30" font-size="10" text-anchor="middle" fill="#4a4a4a" font-weight="normal" font-style="normal">Co-located</text>
<text x="445.20" y="512.30" font-size="10" text-anchor="middle" fill="#4a4a4a" font-weight="normal" font-style="normal">Separated</text>
<text transform="translate(280.6,385.52) rotate(-90)" font-size="10.2" text-anchor="middle" fill="#4a4a4a">Threshold Difference (dB)</text>
<rect x="317.10" y="377.40" width="23.20" height="108.00" fill="url(#hatch)" stroke="#0a0e8e" stroke-width="1.4" stroke-dasharray="4.3 2.4"/>
<line x1="328.70" y1="361.10" x2="328.70" y2="393.00" stroke="#0a0e8e" stroke-width="1.4" />
<path d="M328.70,361.10V361.10M327.40,361.10H330.00M327.40,361.10H330.00" stroke="#0a0e8e" stroke-width="1.4" fill="none"/>
<path d="M328.70,353.20L328.70,349.80M328.70,353.20L331.93,352.15M328.70,353.20L330.70,355.95M328.70,353.20L326.70,355.95M328.70,353.20L325.47,352.15" stroke="#1a1a1a" stroke-width="1.1" stroke-linecap="butt" fill="none"/>
<rect x="363.40" y="384.30" width="23.50" height="101.10" fill="url(#hatch)" stroke="#0a0e8e" stroke-width="1.4"/>
<line x1="375.15" y1="357.30" x2="375.15" y2="411.20" stroke="#0a0e8e" stroke-width="1.4" />
<path d="M375.15,357.30V357.30M373.85,357.30H376.45M373.85,357.30H376.45" stroke="#0a0e8e" stroke-width="1.4" fill="none"/>
<path d="M375.15,349.50L375.15,346.10M375.15,349.50L378.38,348.45M375.15,349.50L377.15,352.25M375.15,349.50L373.15,352.25M375.15,349.50L371.92,348.45" stroke="#1a1a1a" stroke-width="1.1" stroke-linecap="butt" fill="none"/>
<rect x="409.40" y="340.70" width="24.10" height="144.70" fill="url(#hatch)" stroke="#e01a22" stroke-width="1.4" stroke-dasharray="4.3 2.4"/>
<line x1="421.45" y1="299.60" x2="421.45" y2="381.80" stroke="#e01a22" stroke-width="1.4" />
<path d="M421.45,299.60V299.60M420.15,299.60H422.75M420.15,299.60H422.75" stroke="#e01a22" stroke-width="1.4" fill="none"/>
<path d="M421.45,291.90L421.45,288.50M421.45,291.90L424.68,290.85M421.45,291.90L423.45,294.65M421.45,291.90L419.45,294.65M421.45,291.90L418.22,290.85" stroke="#1a1a1a" stroke-width="1.1" stroke-linecap="butt" fill="none"/>
<rect x="456.50" y="440.50" width="23.30" height="44.90" fill="url(#hatch)" stroke="#e01a22" stroke-width="1.4"/>
<line x1="468.15" y1="399.70" x2="468.15" y2="481.90" stroke="#e01a22" stroke-width="1.4" />
<path d="M468.15,399.70V399.70M466.85,399.70H469.45M466.85,399.70H469.45" stroke="#e01a22" stroke-width="1.4" fill="none"/>
</svg>
</body></html>
